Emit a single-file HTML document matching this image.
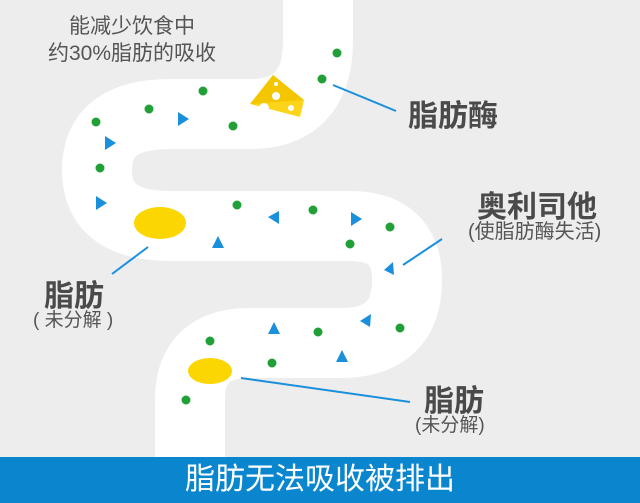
<!DOCTYPE html>
<html><head><meta charset="utf-8"><style>
body{margin:0;width:640px;height:503px;overflow:hidden;background:#ededed;font-family:"Liberation Sans","Noto Sans CJK SC",sans-serif;position:relative}
.t{position:absolute;color:#4a4a4a;white-space:nowrap}
.b{font-weight:bold;font-size:30px}
.s{font-size:19px;color:#555}
.bar{position:absolute;left:0;top:457px;width:640px;height:46px;background:#0a86cf;color:#fff;font-size:30px;text-align:center;line-height:46px}
</style></head><body>
<svg width="640" height="503" style="position:absolute;left:0;top:0">
<path d="M318,-10 L318,40 Q318,114 250,114 L170,114 Q97,114 97,170 Q97,226 170,226 L350,226 Q407,226 407,280 Q407,343 340,343 L250,343 Q190,343 190,400 L190,470" fill="none" stroke="#fff" stroke-width="70"/>
<g fill="#22a038">
<circle cx="337" cy="53" r="4.5"/><circle cx="322" cy="79" r="4.5"/><circle cx="203" cy="91" r="4.5"/><circle cx="149" cy="109" r="4.5"/><circle cx="96" cy="122" r="4.5"/><circle cx="233" cy="126" r="4.5"/><circle cx="100" cy="168" r="4.5"/><circle cx="237" cy="205" r="4.5"/><circle cx="313" cy="210" r="4.5"/><circle cx="390" cy="227" r="4.5"/><circle cx="350" cy="244" r="4.5"/><circle cx="210" cy="341" r="4.5"/><circle cx="318" cy="332" r="4.5"/><circle cx="400" cy="328" r="4.5"/><circle cx="272" cy="363" r="4.5"/><circle cx="186" cy="400" r="4.5"/>
</g>
<g fill="#1a8fdc">
<polygon points="178,112 189,119 178,126"/><polygon points="105,136 116,143 105,150"/><polygon points="96,196 107,203 96,210"/><polygon points="268,217 279,211 279,224"/><polygon points="351,212 362,219 351,226"/><polygon points="212,248 218,236 224,248"/><polygon points="384,270 393,262 394,275"/><polygon points="268,334 274,322 280,334"/><polygon points="360,321 371,314 370,327"/><polygon points="336,362 342,350 348,362"/>
</g>
<polygon points="250,104 273,75 304,100 300,117" fill="#fcd41a"/>
<polygon points="273,75 304,100 250,104" fill="#f3c600"/>
<circle cx="276" cy="96" r="4" fill="#fff"/><circle cx="264" cy="108" r="5" fill="#fff"/><circle cx="291" cy="108" r="3" fill="#fff"/><circle cx="276" cy="84" r="2" fill="#fff"/>
<ellipse cx="160" cy="223" rx="26" ry="16" fill="#fcd600"/>
<ellipse cx="210" cy="371" rx="22" ry="13" fill="#fcd600"/>
<g stroke="#1a8fdc" stroke-width="2">
<line x1="333" y1="85" x2="396" y2="111"/><line x1="442" y1="239" x2="403" y2="265"/><line x1="148" y1="247" x2="112" y2="274"/><line x1="241" y1="378" x2="410" y2="402"/>
</g>
</svg>
<div class="t" style="left:69px;top:10px;font-size:21px;color:#555">能减少饮食中</div>
<div class="t" style="left:48px;top:37px;font-size:21px;color:#555">约30%脂肪的吸收</div>
<div class="t b" style="left:408px;top:91px">脂肪酶</div>
<div class="t b" style="left:477px;top:182px">奥利司他</div>
<div class="t s" style="left:468px;top:215px;font-size:20px">(使脂肪酶失活)</div>
<div class="t b" style="left:44px;top:271px">脂肪</div>
<div class="t s" style="left:33px;top:305px">( 未分解 )</div>
<div class="t b" style="left:424px;top:376px">脂肪</div>
<div class="t s" style="left:415px;top:410px">(未分解)</div>
<div class="bar">脂肪无法吸收被排出</div>
</body></html>
